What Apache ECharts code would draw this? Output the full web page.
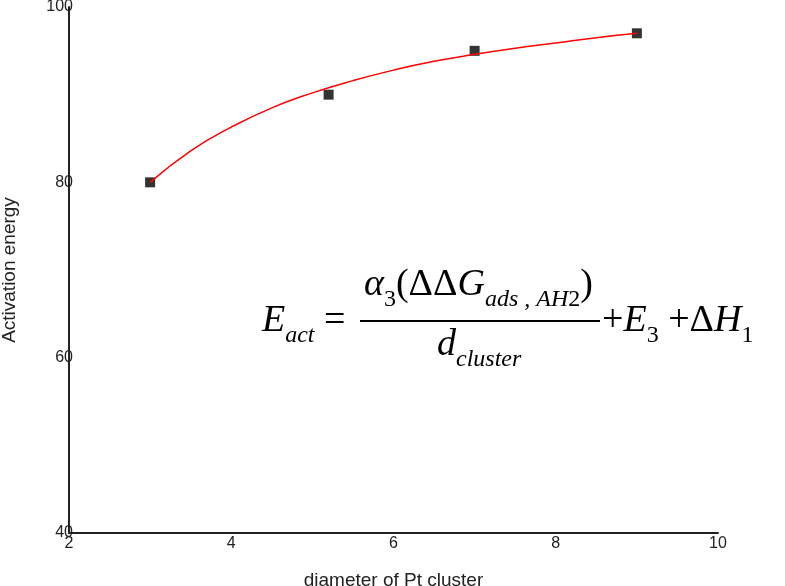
<!DOCTYPE html>
<html>
<head>
<meta charset="utf-8">
<script src="https://cdn.jsdelivr.net/npm/echarts@6/dist/echarts.min.js"></script>
<style>
  html, body { margin: 0; padding: 0; background: #fff; }
  #chart { width: 785px; height: 586px; }
</style>
</head>
<body>
<div id="chart"></div>
<script>
// measured points
const diameters = [3, 5.2, 7, 9];
const energies = [80, 90, 95, 97];
// fitted curve
const fitX = [3, 3.5, 4, 4.5, 5, 5.5, 6, 6.5, 7, 7.5, 8, 8.5, 9];
const fitY = [80, 83.6, 86.3, 88.5, 90.2, 91.6, 92.8, 93.8, 94.6, 95.3, 95.9, 96.5, 97];

const chart = echarts.init(document.getElementById('chart'));

const serif = '"Liberation Serif", "Times New Roman", serif';
const rich = {
  n: { fontFamily: serif, fontSize: 38, color: '#000', verticalAlign: 'bottom' },
  i: { fontFamily: serif, fontSize: 38, fontStyle: 'italic', color: '#000', verticalAlign: 'bottom' },
  s: { fontFamily: serif, fontSize: 24, color: '#000', verticalAlign: 'bottom', padding: [0, 0, -8, 0] },
  si: { fontFamily: serif, fontSize: 24, fontStyle: 'italic', color: '#000', verticalAlign: 'bottom', padding: [0, 0, -8, 0] }
};
const sans = 'Arial, "Liberation Sans", sans-serif';

chart.setOption({
  animation: false,
  grid: { left: 69, right: 67, top: 7, bottom: 53, outerBoundsMode: 'none', containLabel: false },
  xAxis: {
    type: 'value', min: 2, max: 10, interval: 2,
    name: 'diameter of Pt cluster', nameLocation: 'middle', nameGap: 38,
    nameTextStyle: { fontFamily: sans, fontSize: 19, color: '#222' },
    axisLine: { lineStyle: { color: '#222', width: 2 } },
    axisTick: { show: false },
    splitLine: { show: false },
    axisLabel: { color: '#222', fontSize: 16, margin: 3, fontFamily: sans }
  },
  yAxis: {
    type: 'value', min: 40, max: 100, interval: 20,
    name: 'Activation energy', nameLocation: 'middle', nameGap: 50,
    nameTextStyle: { fontFamily: sans, fontSize: 19, color: '#222' },
    axisLine: { show: true, lineStyle: { color: '#222', width: 2 } },
    axisTick: { show: false },
    splitLine: { show: false },
    axisLabel: { color: '#222', fontSize: 16, margin: -4, fontFamily: sans }
  },
  graphic: [
    { type: 'text', left: 262, top: 302, style: { text: '{i|E}{si|act}{n| =}', rich: rich } },
    { type: 'text', left: 364, top: 266, style: { text: '{i|α}{s|3}{n|(ΔΔ}{i|G}{si|ads , AH}{s|2}{n|)}', rich: rich } },
    { type: 'rect', shape: { x: 360, y: 320, width: 240, height: 2 }, style: { fill: '#000' } },
    { type: 'text', left: 437, top: 326, style: { text: '{i|d}{si|cluster}', rich: rich } },
    { type: 'text', left: 602, top: 302, style: { text: '{n|+}{i|E}{s|3}{n| +Δ}{i|H}{s|1}', rich: rich } }
  ],
  series: [
    {
      type: 'line', data: fitX.map((x, k) => [x, fitY[k]]),
      smooth: true, showSymbol: false, lineStyle: { color: '#ff0000', width: 1.5 }
    },
    {
      type: 'scatter', data: diameters.map((x, k) => [x, energies[k]]),
      symbol: 'rect', symbolSize: 10, itemStyle: { color: '#000' }
    }
  ]
});
</script>
</body>
</html>
